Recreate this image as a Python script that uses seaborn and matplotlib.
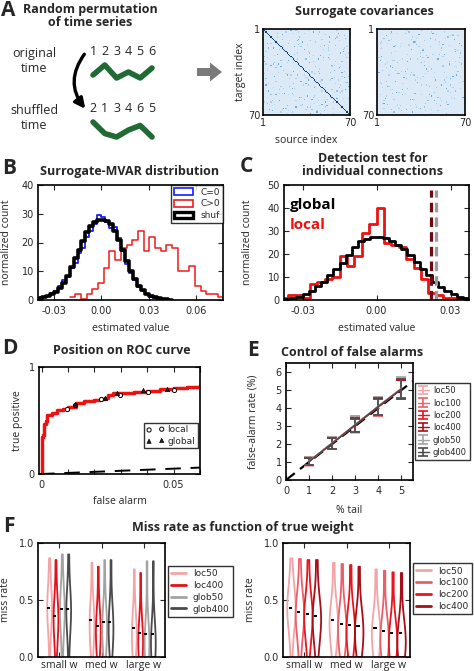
import numpy as np
import pandas as pd
import matplotlib
matplotlib.use("Agg")
import matplotlib.pyplot as plt
from matplotlib.patches import Patch
from matplotlib.lines import Line2D
import seaborn as sns

W, H = 474, 671

# ---------------- data ----------------
# A: toy time series and its shuffled version
series_vals = [3, 13, 0, 6, 0, 10]
perm_order = [2, 1, 3, 4, 6, 5]

# A: surrogate covariance matrices (70 nodes), speckle cells read by eye
n_nodes = 70
cov_base = 0.14
cov_diag = 0.95
cov_speck = 0.5
cov_faint = 0.32
speck1_rows = [2, 4, 7, 9, 11, 13, 16, 18, 20, 23, 25, 27, 29, 31, 34, 36, 38, 40, 42, 45,
               47, 49, 52, 54, 56, 58, 61, 63, 65, 68, 1, 6, 10, 15, 19, 24, 28, 33, 37, 41,
               46, 50, 55, 59, 64, 67, 3, 14, 26, 35, 44, 53, 62, 8, 21, 30, 39, 48, 57, 66]
speck1_cols = [40, 15, 58, 27, 3, 49, 33, 64, 11, 52, 20, 37, 6, 61, 24, 45, 9, 55, 30, 2,
               41, 66, 17, 35, 59, 13, 47, 26, 5, 38, 22, 53, 31, 8, 62, 44, 12, 57, 19, 36,
               68, 4, 29, 50, 16, 43, 60, 25, 1, 63, 34, 10, 51, 28, 46, 14, 65, 23, 39, 7]
speck2_rows = [0, 3, 5, 8, 10, 12, 14, 17, 19, 22, 24, 26, 28, 30, 32, 35, 37, 39, 41, 43,
               46, 48, 51, 53, 55, 57, 60, 62, 64, 66, 69, 2, 7, 11, 16, 20, 25, 29, 34, 38,
               42, 47, 52, 56, 61, 65, 4, 13, 23, 31, 40, 49, 58, 67, 9, 18, 27, 36, 45, 54]
speck2_cols = [18, 44, 7, 61, 29, 52, 13, 36, 66, 3, 48, 24, 57, 10, 39, 1, 63, 21, 46, 32,
               8, 55, 15, 41, 68, 26, 5, 50, 34, 19, 59, 11, 42, 65, 27, 53, 2, 37, 22, 60,
               14, 47, 30, 6, 56, 23, 33, 67, 40, 12, 58, 20, 45, 28, 9, 62, 35, 16, 51, 43]

# B: surrogate-MVAR histograms
b_edges = list(np.linspace(-0.0425, 0.045, 36))
shuf_counts = [0.4, 0.7, 1.0, 1.4, 2.0, 2.8, 4.2, 6.0, 8.2, 11.5, 14.5, 17.5, 20.5, 23.5,
               25.8, 27.0, 28.0, 28.0, 27.5, 26.5, 24.0, 21.0, 17.5, 13.5, 10.0, 7.2, 5.0,
               3.4, 2.2, 1.5, 1.0, 0.7, 0.4, 0.2, 0.1]
c0_counts = [0.2, 0.5, 0.9, 1.5, 2.3, 3.2, 4.8, 6.8, 8.0, 11.0, 13.0, 16.5, 18.0, 22.0,
             24.0, 26.5, 29.5, 29.0, 27.0, 25.0, 25.5, 21.5, 17.0, 12.5, 9.5, 7.0, 4.5,
             3.0, 2.0, 1.2, 0.7, 0.4, 0.2, 0.1, 0.0]
b_edges_pos = list(np.linspace(-0.02, 0.0772, 28))
cpos_counts = [1, 2, 0.5, 2, 4, 6, 11, 17, 14, 18, 19, 21, 24, 17, 22, 18, 17, 19, 18, 10,
               10, 12, 5, 3, 2, 2, 1]

# C: detection test histograms and thresholds
c_edges_glob = list(np.linspace(-0.0375, 0.0375, 31))
glob_counts = [0.5, 1.0, 1.5, 2.5, 4.0, 6.0, 8.0, 11, 13.5, 16, 19.5, 23, 25.5, 26.5, 27.5,
               27.5, 27, 25.5, 24, 22, 19.5, 16.5, 13.5, 11, 8, 5.5, 4, 2.5, 1.5, 1.0]
c_edges_loc = list(np.linspace(-0.039, 0.039, 27))
loc_counts = [1, 2, 2, 1, 7, 8, 9, 10, 19, 15, 19, 29, 33, 40, 25, 24, 23, 18, 14, 9,
              3, 2, 1, 1, 0.5, 0.3]
thr_local = 0.0219
thr_global = 0.0243
thr_top = 48

# D: ROC curve and operating points
roc_fa = [0, 0.0003, 0.0005, 0.0008, 0.001, 0.0015, 0.002, 0.004, 0.006, 0.008, 0.01,
          0.013, 0.016, 0.02, 0.022, 0.024, 0.025, 0.027, 0.03, 0.035, 0.04, 0.045, 0.05,
          0.055, 0.06]
roc_tp = [0, 0.35, 0.36, 0.45, 0.47, 0.5, 0.55, 0.57, 0.6, 0.61, 0.63, 0.66, 0.68, 0.69,
          0.7, 0.71, 0.74, 0.755, 0.76, 0.77, 0.78, 0.79, 0.8, 0.81, 0.82]
local_fa = [0.0095, 0.0127, 0.0225, 0.0297, 0.0403, 0.05]
local_tp = [0.609, 0.647, 0.703, 0.741, 0.763, 0.781]
global_fa = [0.0127, 0.0241, 0.0285, 0.0384, 0.0475]
global_tp = [0.656, 0.709, 0.756, 0.781, 0.794]

# E: false alarm control
tails = [1, 2, 3, 4, 5]
fa_names = ["loc50", "loc100", "loc200", "loc400", "glob50", "glob400"]
fa_mean = {
    "loc50": [1.05, 2.06, 3.07, 4.10, 5.08],
    "loc100": [1.04, 2.05, 3.06, 4.08, 5.06],
    "loc200": [1.03, 2.04, 3.05, 4.07, 5.05],
    "loc400": [1.02, 2.03, 3.04, 4.06, 5.04],
    "glob50": [1.05, 2.07, 3.09, 4.11, 5.10],
    "glob400": [1.03, 2.05, 3.07, 4.09, 5.07],
}
fa_err = {
    "loc50": [0.25, 0.35, 0.46, 0.53, 0.60],
    "loc100": [0.22, 0.32, 0.42, 0.50, 0.56],
    "loc200": [0.20, 0.30, 0.40, 0.47, 0.53],
    "loc400": [0.18, 0.28, 0.37, 0.44, 0.50],
    "glob50": [0.24, 0.34, 0.45, 0.52, 0.60],
    "glob400": [0.20, 0.30, 0.40, 0.48, 0.55],
}

# F: miss rates per weight class (small w, med w, large w)
weights = ["small w", "med w", "large w"]
miss = {
    "loc50": [[0, .23, .31, .37, .41, .45, .49, .55, .65, .866],
              [0, .10, .18, .24, .28, .32, .36, .42, .52, .827],
              [0, .02, .10, .16, .20, .24, .28, .34, .44, .769]],
    "loc100": [[0, .18, .26, .32, .36, .40, .44, .50, .60, .86],
               [0, .06, .14, .20, .24, .28, .32, .38, .48, .816],
               [0, .0, .06, .12, .16, .20, .24, .30, .40, .757]],
    "loc200": [[0, .16, .24, .30, .34, .38, .42, .48, .58, .851],
               [0, .05, .13, .19, .23, .27, .31, .37, .47, .807],
               [0, .0, .04, .10, .14, .18, .22, .28, .38, .743]],
    "loc400": [[0, .14, .22, .28, .32, .36, .40, .46, .56, .851],
               [0, .04, .12, .18, .22, .26, .30, .36, .46, .792],
               [0, .0, .04, .10, .14, .18, .22, .28, .38, .737]],
    "glob50": [[0, .21, .29, .35, .39, .43, .47, .53, .63, .90],
               [0, .07, .15, .21, .25, .29, .33, .39, .49, .85],
               [0, .0, .02, .08, .12, .16, .20, .26, .36, .84]],
    "glob400": [[0, .21, .29, .35, .39, .43, .47, .53, .63, .90],
                [0, .07, .15, .21, .25, .29, .33, .39, .49, .85],
                [0, .0, .02, .08, .12, .16, .20, .26, .36, .84]],
}
left_conds = ["loc50", "loc400", "glob50", "glob400"]
right_conds = ["loc50", "loc100", "loc200", "loc400"]

colors = {"loc50": "#f4a3a6", "loc100": "#e9606a", "loc200": "#e8141e",
          "loc400": "#a80f18", "glob50": "#a3a3a3", "glob400": "#4a4a4a"}
left_colors = dict(colors, loc400="#e0121c")

# ---------------- style ----------------
sns.set_style("ticks")
plt.rcParams.update({
    "font.family": ["DejaVu Sans"],
    "xtick.direction": "in", "ytick.direction": "in",
    "xtick.top": True, "ytick.right": True,
    "xtick.major.size": 3.5, "ytick.major.size": 3.5,
    "xtick.major.width": 0.8, "ytick.major.width": 0.8,
    "xtick.labelsize": 7, "ytick.labelsize": 7,
    "xtick.major.pad": 4, "ytick.major.pad": 3,
    "axes.linewidth": 1.2, "axes.edgecolor": "black",
})
TITLE = dict(family="Open Sans", weight="bold", size=9)
LABEL = dict(family="Open Sans", size=7.5)
LETTER = dict(family="Open Sans", weight="bold", size=15)


def box(x0, y0, x1, y1):
    return [x0 / W, 1 - y1 / H, (x1 - x0) / W, (y1 - y0) / H]


def ftext(x, y, s, **kw):
    fig.text(x / W, 1 - y / H, s, ha=kw.pop("ha", "center"), va=kw.pop("va", "center"), **kw)


def step_hist(ax, edges, counts, color, lw):
    edges = list(edges)
    mids = [(a + b) / 2 for a, b in zip(edges[:-1], edges[1:])]
    frame = pd.DataFrame({"value": mids, "count": counts})
    sns.histplot(data=frame, x="value", weights="count", bins=edges, element="step",
                 fill=False, color=color, lw=lw, ax=ax)


fig = plt.figure(figsize=(W / 100, H / 100), dpi=100)

# background axes in pixel coordinates for annotations
bg = fig.add_axes([0, 0, 1, 1], zorder=-5)
bg.set_xlim(0, W)
bg.set_ylim(H, 0)
bg.axis("off")

# ---------------- panel A ----------------
ftext(1, 11, "A", ha="left", **LETTER)
ftext(90, 16, "Random permutation\nof time series", linespacing=1.1, **TITLE)
ftext(34, 61, "original\ntime", family="Open Sans", size=9, linespacing=1.15)
ftext(34, 118, "shuffled\ntime", family="Open Sans", size=9, linespacing=1.15)

t = np.arange(1, 7)
shuffled = [series_vals[p - 1] for p in perm_order]
for rect, vals, labels in [((93, 65, 152, 78), series_vals, t),
                           ((93, 122, 152, 137), shuffled, perm_order)]:
    axl = fig.add_axes(box(*rect))
    sns.lineplot(x=t, y=vals, ax=axl, color="#1f6b33", lw=4.0, clip_on=False)
    axl.set_xlim(1, 6)
    axl.set_ylim(0, max(vals))
    axl.axis("off")
    for ti, lab in zip(t, labels):
        axl.annotate(str(lab), xy=(ti, 1), xycoords=("data", "axes fraction"),
                     xytext=(0, 9.5), textcoords="offset points", ha="center",
                     va="center", family="Open Sans", size=9)

bg.annotate("", xy=(87, 111), xytext=(86, 52),
            arrowprops=dict(arrowstyle="-|>,head_length=0.6,head_width=0.3",
                            connectionstyle="arc3,rad=0.4", lw=2.4, color="black"))
bg.arrow(197, 72, 13, 0, width=8, head_width=19, head_length=12, color="#7a7a7a", lw=0)

ftext(364, 11, "Surrogate covariances", **TITLE)
cov1 = np.full((n_nodes, n_nodes), cov_base)
cov1[speck1_rows, speck2_cols] = cov_faint
cov1[speck2_cols, speck1_rows] = cov_faint
cov1[speck1_rows, speck1_cols] = cov_speck
cov1[speck1_cols, speck1_rows] = cov_speck * 0.8
np.fill_diagonal(cov1, cov_diag)
cov2 = np.full((n_nodes, n_nodes), cov_base)
cov2[speck2_rows, speck1_cols] = cov_faint
cov2[speck1_cols, speck2_rows] = cov_faint
cov2[speck2_rows, speck2_cols] = cov_speck
cov2[speck2_cols, speck2_rows] = cov_speck * 0.8

for i, (rect, mat) in enumerate([((263, 29, 350, 115), cov1), ((377, 29, 465, 115), cov2)]):
    axh = fig.add_axes(box(*rect))
    sns.heatmap(mat, ax=axh, cmap="Blues", vmin=0, vmax=1, cbar=False,
                xticklabels=False, yticklabels=False)
    axh.set_xticks([0, n_nodes])
    axh.set_xticklabels(["1", str(n_nodes)])
    axh.set_yticks([0, n_nodes])
    axh.set_yticklabels(["1", str(n_nodes)])
    axh.tick_params(length=0, pad=2, top=False, right=False)
    for s in axh.spines.values():
        s.set_visible(True)
        s.set_linewidth(1.2)
    if i == 0:
        axh.set_xlabel("source index", **LABEL)
        axh.set_ylabel("target index", **LABEL)
        axh.xaxis.set_label_coords(0.5, -0.23)
        axh.yaxis.set_label_coords(-0.2, 0.5)

# ---------------- panel B ----------------
ftext(2, 168, "B", ha="left", **LETTER)
ftext(130, 172, "Surrogate-MVAR distribution", **TITLE)
axB = fig.add_axes(box(38, 185, 223, 300))
step_hist(axB, b_edges_pos, cpos_counts, "#ee1c1c", 1.1)
step_hist(axB, b_edges, c0_counts, "#1a1aff", 1.3)
step_hist(axB, b_edges, shuf_counts, "black", 2.6)
axB.set_xlim(-0.04, 0.077)
axB.set_ylim(0, 40)
axB.set_xticks([-0.03, 0.0, 0.03, 0.06])
axB.set_yticks([0, 10, 20, 30, 40])
axB.xaxis.set_major_formatter(matplotlib.ticker.FormatStrFormatter("%.2f"))
axB.set_xlabel("estimated value", **LABEL)
axB.set_ylabel("normalized count", **LABEL)
axB.xaxis.set_label_coords(0.5, -0.2)
axB.yaxis.set_label_coords(-0.14, 0.5)
hB = [Patch(facecolor="white", edgecolor="#1a1aff", lw=1.2),
      Patch(facecolor="white", edgecolor="#ee1c1c", lw=1.2),
      Patch(facecolor="white", edgecolor="black", lw=2.4)]
legB = axB.legend(hB, ["C=0", "C>0", "shuf"], loc="upper right", fontsize=6.5,
                  frameon=True, fancybox=False, edgecolor="black", borderaxespad=0,
                  handlelength=2.2, handleheight=0.8, labelspacing=0.3, borderpad=0.3)
legB.get_frame().set_linewidth(1.0)

# ---------------- panel C ----------------
ftext(240, 166, "C", ha="left", **LETTER)
ftext(373, 165, "Detection test for\nindividual connections", linespacing=1.05, **TITLE)
axC = fig.add_axes(box(284, 185, 469, 300))
step_hist(axC, c_edges_loc, loc_counts, "#ee1111", 2.0)
step_hist(axC, c_edges_glob, glob_counts, "black", 2.0)
axC.vlines([thr_local], 0, thr_top, colors="#6e0a10", lw=2.3, linestyles=(0, (3, 1.6)))
axC.vlines([thr_global], 0, thr_top, colors="#9a9a9a", lw=2.3, linestyles=(0, (3, 1.6)))
axC.set_xlim(-0.0375, 0.0375)
axC.set_ylim(0, 50)
axC.set_xticks([-0.03, 0.0, 0.03])
axC.set_yticks([0, 10, 20, 30, 40, 50])
axC.xaxis.set_major_formatter(matplotlib.ticker.FormatStrFormatter("%.2f"))
axC.set_xlabel("estimated value", **LABEL)
axC.set_ylabel("normalized count", **LABEL)
axC.xaxis.set_label_coords(0.5, -0.2)
axC.yaxis.set_label_coords(-0.165, 0.5)
axC.text(0.03, 0.83, "global", transform=axC.transAxes, color="black", va="center",
         family="Open Sans", weight="bold", size=11)
axC.text(0.03, 0.65, "local", transform=axC.transAxes, color="#ee1111", va="center",
         family="Open Sans", weight="bold", size=11)

# ---------------- panel D ----------------
ftext(2, 349, "D", ha="left", **LETTER)
ftext(122, 351, "Position on ROC curve", **TITLE)
axD = fig.add_axes(box(39, 367, 200, 474))
axD.set_xlim(-0.001, 0.06)
axD.set_ylim(0, 1)
diag = np.array(axD.get_xlim())
sns.lineplot(x=diag, y=diag, ax=axD, color="black", lw=1.4, linestyle=(0, (8, 5)))
sns.lineplot(x=roc_fa, y=roc_tp, ax=axD, color="#ee1111", lw=2.5, estimator=None,
             drawstyle="steps-post")
sns.scatterplot(x=local_fa, y=local_tp, ax=axD, marker="o", s=9, color="white",
                edgecolor="black", linewidth=0.7, label="local", zorder=4)
sns.scatterplot(x=global_fa, y=global_tp, ax=axD, marker="^", s=9, color="#222222",
                edgecolor="black", linewidth=0.5, label="global", zorder=4)
axD.set_xlim(-0.001, 0.06)
axD.set_ylim(0, 1)
axD.set_xticks(np.arange(0, 0.0601, 0.01))
axD.set_xticklabels(["0", "", "", "", "", "0.05", ""])
axD.set_yticks([0, 1])
axD.set_yticklabels(["0", "1"])
axD.set_xlabel("false alarm", **LABEL)
axD.set_ylabel("true positive", **LABEL)
axD.xaxis.set_label_coords(0.5, -0.21)
axD.yaxis.set_label_coords(-0.1, 0.5)
legD = axD.legend(loc="lower right", bbox_to_anchor=(0.985, 0.24), borderaxespad=0,
                  scatterpoints=2, fontsize=6.5, frameon=True, fancybox=False,
                  edgecolor="black", handletextpad=0.3, labelspacing=0.25, borderpad=0.3)
legD.get_frame().set_linewidth(1.0)

# ---------------- panel E ----------------
ftext(247, 350, "E", ha="left", **LETTER)
ftext(352, 352, "Control of false alarms", **TITLE)
axE = fig.add_axes(box(286, 363, 413, 480))
axE.set_xlim(0, 5.5)
axE.set_ylim(0, 6.5)
ident = np.array(axE.get_xlim())
sns.lineplot(x=ident, y=ident, ax=axE, color="black", lw=1.6, linestyle=(0, (5, 3)))
for name in fa_names:
    axE.errorbar(tails, fa_mean[name], yerr=fa_err[name], color=colors[name], lw=1.0,
                 elinewidth=1.2, capsize=3.5, capthick=1.2, label=name)
axE.set_xlim(0, 5.5)
axE.set_ylim(0, 6.5)
axE.set_xticks(range(0, 6))
axE.set_yticks(range(0, 7))
axE.set_xlabel("% tail", **LABEL)
axE.set_ylabel("false-alarm rate (%)", **LABEL)
axE.xaxis.set_label_coords(0.5, -0.21)
axE.yaxis.set_label_coords(-0.22, 0.5)
legE = axE.legend(loc="center left", bbox_to_anchor=(1.015, 0.5), borderaxespad=0,
                  fontsize=6, frameon=True, fancybox=False, edgecolor="black",
                  handlelength=1.3, handletextpad=0.5, labelspacing=0.4, borderpad=0.35)
legE.get_frame().set_linewidth(1.0)

# ---------------- panel F ----------------
ftext(3, 526, "F", ha="left", **LETTER)
ftext(243, 527, "Miss rate as function of true weight", **TITLE)
rows = []
for cond, per_w in miss.items():
    for w, vals in zip(weights, per_w):
        for v in vals:
            rows.append((cond, w, v))
df_miss = pd.DataFrame(rows, columns=["cond", "weight", "miss"])
mean_miss = df_miss.groupby(["cond", "weight"])["miss"].mean()

for rect, conds, pal, width, gap, leg_y in [
        ((38, 543, 165, 657), left_conds, left_colors, 0.6, 0.25, 0.575),
        ((283, 543, 410, 657), right_conds, colors, 0.8, 0.0, 0.6)]:
    axF = fig.add_axes(box(*rect))
    sub = df_miss[df_miss["cond"].isin(conds)]
    sns.violinplot(data=sub, x="weight", y="miss", hue="cond", order=weights,
                   hue_order=conds, palette=[pal[c] for c in conds], fill=False,
                   inner=None, cut=0, density_norm="width", width=width, gap=gap,
                   linewidth=1.3, legend=False, ax=axF)
    # mean marks at the dodged violin positions
    slot = width / len(conds)
    for j, c in enumerate(conds):
        for k, w in enumerate(weights):
            pos = k + (j - (len(conds) - 1) / 2) * slot
            axF.hlines(mean_miss[(c, w)], pos - 0.065, pos + 0.01, colors="black", lw=1.4,
                       zorder=5)
    axF.set_xlim(-0.5, 2.5)
    axF.set_ylim(0, 1)
    axF.set_yticks([0, 0.5, 1.0])
    axF.yaxis.set_major_formatter(matplotlib.ticker.FormatStrFormatter("%.1f"))
    axF.tick_params(axis="x", labelsize=7.5, pad=2)
    for lab in axF.get_xticklabels():
        lab.set_family("Open Sans")
    axF.set_xlabel("")
    axF.set_ylabel("miss rate", **LABEL)
    axF.yaxis.set_label_coords(-0.21, 0.5)
    hF = [Line2D([], [], color=pal[c], lw=2) for c in conds]
    legF = axF.legend(hF, conds, loc="center left", bbox_to_anchor=(1.02, leg_y),
                      borderaxespad=0, fontsize=6.5, frameon=True, fancybox=False,
                      edgecolor="black", handlelength=1.6, labelspacing=0.3,
                      borderpad=0.4)
    legF.get_frame().set_linewidth(1.0)

fig.savefig("out.png", dpi=100)
